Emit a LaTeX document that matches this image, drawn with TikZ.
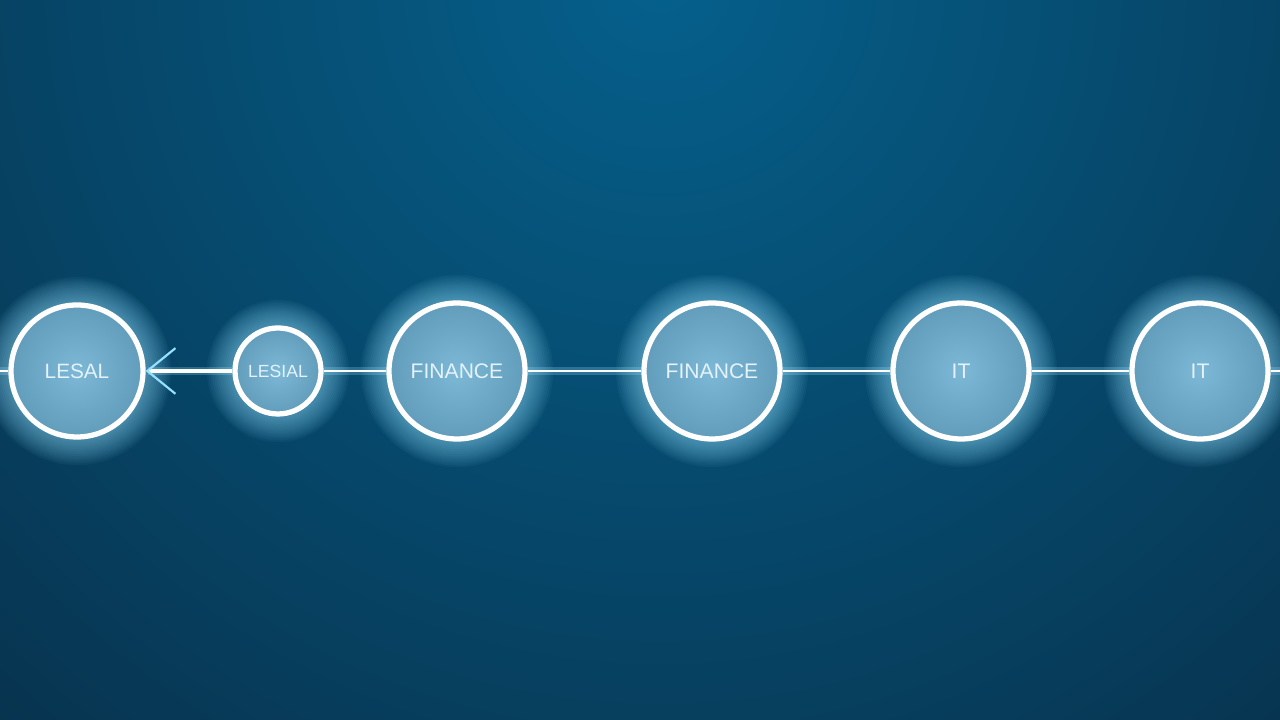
\documentclass[tikz,border=0pt]{standalone}
\usepackage{fontspec}
\setmainfont{Liberation Sans}
\usetikzlibrary{arrows.meta}

\definecolor{bgtop}{RGB}{5,96,140}
\definecolor{bgbot}{RGB}{8,38,60}
\definecolor{glowc}{RGB}{150,225,255}
\definecolor{discin}{RGB}{125,185,215}
\definecolor{discout}{RGB}{70,128,160}
\definecolor{labelc}{RGB}{228,242,250}
\pgfdeclareradialshading{disc}{\pgfpoint{0bp}{0bp}}{color(0bp)=(discin); color(50bp)=(discout)}

\begin{document}
\begin{tikzpicture}[
    stage/.style={circle, draw=white, line width=1.5pt, shading=disc, text=labelc, inner sep=0pt, minimum size=1.36cm, font=\fontsize{6}{7}\selectfont},
    link/.style={draw=white, line width=0.6pt, preaction={draw=glowc, line width=2.5pt, opacity=0.25}},
  ]
    \useasboundingbox (0,0) rectangle (12.8,7.2);
    % background
    \fill[bgbot] (0,0) rectangle (12.8,7.2);
    \begin{scope}
      \clip (0,0) rectangle (12.8,7.2);
      \shade[inner color=bgtop, outer color=bgbot] (6.6,7.4) circle (13);
    \end{scope}
    % halos
    \foreach \x/\r in {0.77/0.69, 2.78/0.46, 4.57/0.71, 7.12/0.71, 9.61/0.71, 12.00/0.71} {
      \foreach \k in {1,...,14}
        \fill[glowc, opacity=0.045] (\x,3.49) circle (\r+0.018*\k);
    }
    \coordinate (west) at (0,3.49);
    \coordinate (east) at (12.8,3.49);
    \node[stage, minimum size=1.32cm, font=\fontsize{5.9}{7}\selectfont] (legal) at (0.77,3.49) {LESAL};
    \node[stage, minimum size=0.86cm, font=\fontsize{5}{6}\selectfont] (legal2) at (2.78,3.49) {LESIAL};
    \node[stage] (finance) at (4.57,3.49) {FINANCE};
    \node[stage] (finance2) at (7.12,3.49) {FINANCE};
    \node[stage] (it) at (9.61,3.49) {IT};
    \node[stage] (it2) at (12.00,3.49) {IT};
    \draw[link] (west) -- (legal);
    \draw[link, line width=1.4pt, -{Straight Barb[length=8pt, width=13pt, line width=0.6pt, color=glowc]}] (legal2) -- (legal);
    \draw[link] (legal2) -- (finance);
    \draw[link] (finance) -- (finance2);
    \draw[link] (finance2) -- (it);
    \draw[link] (it) -- (it2);
    \draw[link] (it2) -- (east);
\end{tikzpicture}
\end{document}
